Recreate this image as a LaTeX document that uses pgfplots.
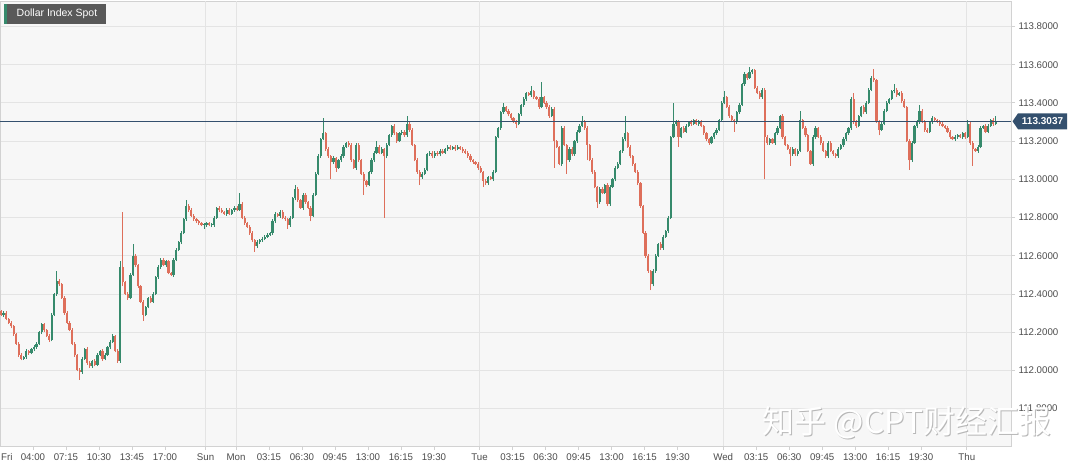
\documentclass[border=0pt]{standalone}
\usepackage{pgfplots}
\usepackage{pgfplotstable}
\pgfplotsset{compat=1.18}
\usepackage{fontspec}
\setmainfont{Liberation Sans}
\newfontfamily\cjk{Noto Sans CJK SC}
\definecolor{upc}{HTML}{368A6C}
\definecolor{dnc}{HTML}{DE6F5B}
\definecolor{plotbg}{HTML}{F7F7F7}
\definecolor{gridc}{HTML}{E4E4E4}
\definecolor{axc}{HTML}{D2D2D2}
\definecolor{labc}{HTML}{4D4D4D}
\definecolor{pricec}{HTML}{34506E}
\definecolor{boxc}{HTML}{595959}
\pgfplotstableread{
i o h l c
0 112.31 112.316 112.284 112.29
1 112.29 112.310 112.280 112.30
2 112.30 112.308 112.262 112.27
3 112.27 112.276 112.244 112.25
4 112.25 112.260 112.220 112.23
5 112.23 112.238 112.182 112.19
6 112.19 112.196 112.134 112.14
7 112.14 112.150 112.070 112.08
8 112.08 112.088 112.052 112.06
9 112.06 112.076 112.054 112.07
10 112.07 112.110 112.060 112.10
11 112.10 112.108 112.082 112.09
12 112.09 112.116 112.084 112.11
13 112.11 112.130 112.100 112.12
14 112.12 112.148 112.112 112.14
15 112.14 112.206 112.134 112.20
16 112.20 112.250 112.190 112.24
17 112.24 112.248 112.202 112.21
18 112.21 112.216 112.174 112.18
19 112.18 112.190 112.150 112.16
20 112.16 112.298 112.152 112.29
21 112.29 112.406 112.284 112.40
22 112.40 112.520 112.390 112.47
23 112.47 112.478 112.442 112.45
24 112.45 112.456 112.374 112.38
25 112.38 112.390 112.290 112.30
26 112.30 112.308 112.242 112.25
27 112.25 112.256 112.204 112.21
28 112.21 112.220 112.130 112.14
29 112.14 112.148 112.072 112.08
30 112.08 112.086 111.994 112.00
31 112.00 112.010 111.950 111.99
32 111.99 112.068 111.982 112.06
33 112.06 112.116 112.054 112.11
34 112.11 112.120 112.030 112.04
35 112.04 112.048 112.012 112.02
36 112.02 112.056 112.014 112.05
37 112.05 112.060 112.020 112.03
38 112.03 112.088 112.022 112.08
39 112.08 112.106 112.074 112.10
40 112.10 112.110 112.050 112.06
41 112.06 112.088 112.052 112.08
42 112.08 112.126 112.074 112.12
43 112.12 112.160 112.110 112.15
44 112.15 112.188 112.142 112.18
45 112.18 112.186 112.094 112.10
46 112.10 112.110 112.040 112.05
47 112.05 112.570 112.040 112.54
48 112.54 112.830 112.440 112.46
49 112.46 112.466 112.394 112.40
50 112.40 112.410 112.370 112.38
51 112.38 112.508 112.372 112.50
52 112.50 112.660 112.494 112.60
53 112.60 112.610 112.540 112.55
54 112.55 112.558 112.432 112.44
55 112.44 112.446 112.354 112.36
56 112.36 112.370 112.260 112.29
57 112.29 112.338 112.282 112.33
58 112.33 112.386 112.324 112.38
59 112.38 112.390 112.350 112.36
60 112.36 112.408 112.352 112.40
61 112.40 112.496 112.394 112.49
62 112.49 112.550 112.480 112.54
63 112.54 112.588 112.532 112.58
64 112.58 112.586 112.544 112.55
65 112.55 112.580 112.540 112.57
66 112.57 112.578 112.502 112.51
67 112.51 112.516 112.494 112.50
68 112.50 112.590 112.490 112.58
69 112.58 112.638 112.572 112.63
70 112.63 112.676 112.624 112.67
71 112.67 112.730 112.660 112.72
72 112.72 112.798 112.712 112.79
73 112.79 112.890 112.784 112.86
74 112.86 112.870 112.830 112.84
75 112.84 112.848 112.802 112.81
76 112.81 112.816 112.784 112.79
77 112.79 112.800 112.770 112.78
78 112.78 112.788 112.762 112.77
79 112.77 112.776 112.754 112.76
80 112.76 112.770 112.740 112.76
81 112.76 112.778 112.752 112.77
82 112.77 112.776 112.754 112.76
83 112.76 112.770 112.750 112.76
84 112.76 112.808 112.752 112.80
85 112.80 112.856 112.794 112.85
86 112.85 112.860 112.830 112.84
87 112.84 112.848 112.822 112.83
88 112.83 112.836 112.814 112.82
89 112.82 112.850 112.810 112.84
90 112.84 112.848 112.812 112.82
91 112.82 112.846 112.814 112.84
92 112.84 112.860 112.830 112.85
93 112.85 112.858 112.832 112.84
94 112.84 112.930 112.834 112.87
95 112.87 112.880 112.790 112.80
96 112.80 112.808 112.762 112.77
97 112.77 112.776 112.744 112.75
98 112.75 112.760 112.710 112.72
99 112.72 112.728 112.672 112.68
100 112.68 112.686 112.620 112.65
101 112.65 112.680 112.640 112.67
102 112.67 112.688 112.662 112.68
103 112.68 112.696 112.674 112.69
104 112.69 112.710 112.680 112.70
105 112.70 112.718 112.692 112.71
106 112.71 112.726 112.704 112.72
107 112.72 112.790 112.710 112.78
108 112.78 112.828 112.772 112.82
109 112.82 112.826 112.804 112.81
110 112.81 112.840 112.800 112.83
111 112.83 112.838 112.792 112.80
112 112.80 112.806 112.784 112.79
113 112.79 112.800 112.740 112.76
114 112.76 112.808 112.752 112.80
115 112.80 112.906 112.794 112.90
116 112.90 112.970 112.890 112.95
117 112.95 112.958 112.882 112.89
118 112.89 112.896 112.844 112.85
119 112.85 112.930 112.840 112.92
120 112.92 112.928 112.872 112.88
121 112.88 112.886 112.844 112.85
122 112.85 112.860 112.780 112.81
123 112.81 112.928 112.802 112.92
124 112.92 113.036 112.914 113.03
125 113.03 113.130 113.020 113.12
126 113.12 113.218 113.112 113.21
127 113.21 113.320 113.204 113.24
128 113.24 113.250 113.150 113.16
129 113.16 113.168 113.112 113.12
130 113.12 113.126 113.000 113.09
131 113.09 113.120 113.080 113.11
132 113.11 113.118 113.040 113.06
133 113.06 113.106 113.054 113.10
134 113.10 113.130 113.090 113.12
135 113.12 113.178 113.112 113.17
136 113.17 113.196 113.164 113.19
137 113.19 113.200 113.170 113.18
138 113.18 113.188 113.092 113.10
139 113.10 113.106 113.054 113.06
140 113.06 113.190 113.050 113.18
141 113.18 113.188 113.092 113.10
142 113.10 113.106 113.024 113.03
143 113.03 113.040 112.920 112.99
144 112.99 112.998 112.962 112.97
145 112.97 113.046 112.964 113.04
146 113.04 113.110 113.030 113.10
147 113.10 113.148 113.092 113.14
148 113.14 113.200 113.134 113.17
149 113.17 113.180 113.130 113.14
150 113.14 113.168 113.132 113.16
151 113.16 113.166 112.800 113.12
152 113.12 113.190 113.110 113.18
153 113.18 113.238 113.172 113.23
154 113.23 113.286 113.224 113.28
155 113.28 113.290 113.230 113.24
156 113.24 113.248 113.192 113.20
157 113.20 113.246 113.194 113.24
158 113.24 113.260 113.230 113.25
159 113.25 113.258 113.222 113.23
160 113.23 113.330 113.224 113.29
161 113.29 113.300 113.250 113.26
162 113.26 113.268 113.172 113.18
163 113.18 113.186 113.094 113.10
164 113.10 113.110 113.030 113.04
165 113.04 113.048 112.970 113.01
166 113.01 113.036 113.004 113.03
167 113.03 113.060 113.020 113.05
168 113.05 113.138 113.042 113.13
169 113.13 113.146 113.124 113.14
170 113.14 113.150 113.110 113.12
171 113.12 113.148 113.112 113.14
172 113.14 113.146 113.124 113.13
173 113.13 113.160 113.120 113.15
174 113.15 113.158 113.132 113.14
175 113.14 113.166 113.134 113.16
176 113.16 113.180 113.150 113.17
177 113.17 113.178 113.152 113.16
178 113.16 113.176 113.154 113.17
179 113.17 113.180 113.150 113.16
180 113.16 113.178 113.152 113.17
181 113.17 113.176 113.154 113.16
182 113.16 113.170 113.140 113.15
183 113.15 113.158 113.132 113.14
184 113.14 113.146 113.114 113.12
185 113.12 113.130 113.090 113.10
186 113.10 113.108 113.082 113.09
187 113.09 113.096 113.074 113.08
188 113.08 113.090 113.050 113.06
189 113.06 113.068 113.032 113.04
190 113.04 113.046 112.960 112.99
191 112.99 113.000 112.970 112.98
192 112.98 113.018 112.972 113.01
193 113.01 113.016 112.994 113.00
194 113.00 113.050 112.990 113.04
195 113.04 113.228 113.032 113.22
196 113.22 113.276 113.214 113.27
197 113.27 113.360 113.260 113.35
198 113.35 113.400 113.342 113.38
199 113.38 113.386 113.354 113.36
200 113.36 113.370 113.330 113.34
201 113.34 113.348 113.312 113.32
202 113.32 113.326 113.294 113.30
203 113.30 113.310 113.270 113.29
204 113.29 113.348 113.282 113.34
205 113.34 113.396 113.334 113.39
206 113.39 113.430 113.380 113.42
207 113.42 113.458 113.412 113.45
208 113.45 113.456 113.434 113.44
209 113.44 113.490 113.430 113.46
210 113.46 113.468 113.422 113.43
211 113.43 113.436 113.414 113.42
212 113.42 113.430 113.370 113.38
213 113.38 113.510 113.372 113.43
214 113.43 113.436 113.394 113.40
215 113.40 113.410 113.370 113.38
216 113.38 113.388 113.322 113.33
217 113.33 113.376 113.324 113.37
218 113.37 113.380 113.060 113.20
219 113.20 113.208 113.162 113.17
220 113.17 113.176 113.074 113.08
221 113.08 113.280 113.070 113.27
222 113.27 113.278 113.172 113.18
223 113.18 113.186 113.030 113.10
224 113.10 113.170 113.090 113.16
225 113.16 113.168 113.122 113.13
226 113.13 113.206 113.124 113.20
227 113.20 113.260 113.190 113.25
228 113.25 113.288 113.242 113.28
229 113.28 113.330 113.274 113.30
230 113.30 113.310 113.260 113.27
231 113.27 113.278 113.100 113.18
232 113.18 113.186 113.094 113.10
233 113.10 113.110 113.030 113.04
234 113.04 113.048 112.952 112.96
235 112.96 112.966 112.850 112.88
236 112.88 112.960 112.870 112.95
237 112.95 112.958 112.922 112.93
238 112.93 112.976 112.924 112.97
239 112.97 112.980 112.860 112.87
240 112.87 112.968 112.862 112.96
241 112.96 113.006 112.954 113.00
242 113.00 113.070 112.990 113.06
243 113.06 113.088 113.052 113.08
244 113.08 113.156 113.074 113.15
245 113.15 113.220 113.140 113.21
246 113.21 113.330 113.202 113.24
247 113.24 113.246 113.164 113.17
248 113.17 113.180 113.110 113.12
249 113.12 113.128 113.072 113.08
250 113.08 113.086 113.034 113.04
251 113.04 113.050 112.970 112.98
252 112.98 112.988 112.852 112.86
253 112.86 112.866 112.714 112.72
254 112.72 112.730 112.590 112.60
255 112.60 112.608 112.512 112.52
256 112.52 112.526 112.420 112.45
257 112.45 112.530 112.440 112.52
258 112.52 112.608 112.512 112.60
259 112.60 112.666 112.594 112.66
260 112.66 112.670 112.630 112.64
261 112.64 112.708 112.632 112.70
262 112.70 112.736 112.694 112.73
263 112.73 112.810 112.720 112.80
264 112.80 113.228 112.792 113.22
265 113.22 113.400 113.214 113.29
266 113.29 113.310 113.280 113.30
267 113.30 113.308 113.170 113.22
268 113.22 113.276 113.214 113.27
269 113.27 113.280 113.240 113.25
270 113.25 113.288 113.242 113.28
271 113.28 113.306 113.274 113.30
272 113.30 113.310 113.280 113.29
273 113.29 113.318 113.282 113.31
274 113.31 113.316 113.284 113.29
275 113.29 113.310 113.280 113.30
276 113.30 113.308 113.272 113.28
277 113.28 113.286 113.234 113.24
278 113.24 113.250 113.200 113.21
279 113.21 113.218 113.182 113.19
280 113.19 113.226 113.184 113.22
281 113.22 113.250 113.210 113.24
282 113.24 113.268 113.232 113.26
283 113.26 113.316 113.254 113.31
284 113.31 113.410 113.300 113.40
285 113.40 113.460 113.392 113.43
286 113.43 113.436 113.374 113.38
287 113.38 113.390 113.320 113.33
288 113.33 113.338 113.302 113.31
289 113.31 113.316 113.250 113.30
290 113.30 113.360 113.290 113.35
291 113.35 113.398 113.342 113.39
292 113.39 113.506 113.384 113.50
293 113.50 113.560 113.490 113.55
294 113.55 113.558 113.522 113.53
295 113.53 113.590 113.524 113.56
296 113.56 113.580 113.550 113.57
297 113.57 113.578 113.472 113.48
298 113.48 113.486 113.444 113.45
299 113.45 113.460 113.420 113.43
300 113.43 113.478 113.422 113.47
301 113.47 113.476 113.000 113.22
302 113.22 113.230 113.180 113.19
303 113.19 113.218 113.182 113.21
304 113.21 113.216 113.184 113.19
305 113.19 113.250 113.180 113.24
306 113.24 113.278 113.232 113.27
307 113.27 113.336 113.264 113.33
308 113.33 113.340 113.210 113.22
309 113.22 113.228 113.172 113.18
310 113.18 113.186 113.154 113.16
311 113.16 113.170 113.070 113.13
312 113.13 113.168 113.122 113.16
313 113.16 113.166 113.124 113.13
314 113.13 113.160 113.120 113.15
315 113.15 113.360 113.142 113.31
316 113.31 113.316 113.264 113.27
317 113.27 113.280 113.220 113.23
318 113.23 113.238 113.142 113.15
319 113.15 113.156 113.074 113.08
320 113.08 113.230 113.070 113.22
321 113.22 113.278 113.212 113.27
322 113.27 113.276 113.214 113.22
323 113.22 113.230 113.180 113.19
324 113.19 113.198 113.142 113.15
325 113.15 113.156 113.114 113.12
326 113.12 113.200 113.110 113.19
327 113.19 113.198 113.142 113.15
328 113.15 113.156 113.124 113.13
329 113.13 113.140 113.110 113.12
330 113.12 113.168 113.112 113.16
331 113.16 113.186 113.154 113.18
332 113.18 113.220 113.170 113.21
333 113.21 113.248 113.202 113.24
334 113.24 113.276 113.234 113.27
335 113.27 113.430 113.260 113.42
336 113.42 113.450 113.292 113.30
337 113.30 113.310 113.270 113.28
338 113.28 113.338 113.272 113.33
339 113.33 113.386 113.324 113.38
340 113.38 113.390 113.340 113.35
341 113.35 113.408 113.342 113.40
342 113.40 113.476 113.394 113.47
343 113.47 113.540 113.460 113.53
344 113.53 113.580 113.512 113.52
345 113.52 113.526 113.294 113.30
346 113.30 113.310 113.230 113.26
347 113.26 113.298 113.252 113.29
348 113.29 113.366 113.284 113.36
349 113.36 113.410 113.350 113.40
350 113.40 113.428 113.392 113.42
351 113.42 113.466 113.414 113.46
352 113.46 113.500 113.450 113.47
353 113.47 113.478 113.432 113.44
354 113.44 113.456 113.434 113.45
355 113.45 113.460 113.400 113.41
356 113.41 113.418 113.372 113.38
357 113.38 113.386 113.194 113.20
358 113.20 113.210 113.050 113.10
359 113.10 113.198 113.092 113.19
360 113.19 113.286 113.184 113.28
361 113.28 113.310 113.270 113.30
362 113.30 113.390 113.292 113.36
363 113.36 113.366 113.294 113.30
364 113.30 113.310 113.250 113.26
365 113.26 113.268 113.242 113.25
366 113.25 113.306 113.244 113.30
367 113.30 113.330 113.290 113.32
368 113.32 113.328 113.302 113.31
369 113.31 113.316 113.294 113.30
370 113.30 113.310 113.280 113.29
371 113.29 113.298 113.272 113.28
372 113.28 113.286 113.264 113.27
373 113.27 113.280 113.240 113.25
374 113.25 113.258 113.212 113.22
375 113.22 113.226 113.204 113.21
376 113.21 113.230 113.200 113.22
377 113.22 113.238 113.212 113.23
378 113.23 113.236 113.214 113.22
379 113.22 113.250 113.210 113.24
380 113.24 113.248 113.212 113.22
381 113.22 113.310 113.214 113.29
382 113.29 113.300 113.180 113.19
383 113.19 113.198 113.070 113.16
384 113.16 113.166 113.144 113.15
385 113.15 113.180 113.140 113.17
386 113.17 113.278 113.162 113.27
387 113.27 113.286 113.264 113.28
388 113.28 113.290 113.240 113.25
389 113.25 113.288 113.242 113.28
390 113.28 113.316 113.274 113.31
391 113.31 113.320 113.280 113.29
392 113.29 113.330 113.282 113.304
}\candles
\begin{document}
\begin{tikzpicture}
\useasboundingbox (0,0) rectangle (1080pt,469pt);
\fill[white] (0,0) rectangle (1080pt,469pt);
\begin{axis}[
  at={(0pt,23pt)}, anchor=south west,
  scale only axis, width=1011pt, height=445pt,
  xmin=0.75, xmax=100.36, ymin=111.6037, ymax=113.9335,
  axis background/.style={fill=plotbg},
  axis line style={draw=axc, line width=0.8pt},
  xtick={4,7.25,10.5,13.75,17,27.25,30.5,33.75,37,40.25,43.5,51.25,54.5,57.75,61,64.25,67.5,75.25,78.5,81.75,85,88.25,91.5},
  xticklabels={04:00,07:15,10:30,13:45,17:00,03:15,06:30,09:45,13:00,16:15,19:30,03:15,06:30,09:45,13:00,16:15,19:30,03:15,06:30,09:45,13:00,16:15,19:30},
  extra x ticks={21,24,48,72,96},
  extra x tick labels={Sun,Mon,Tue,Wed,Thu},
  extra x tick style={xmajorgrids=true},
  ytick={111.8,112.0,112.2,112.4,112.6,112.8,113.0,113.2,113.4,113.6,113.8},
  xtick pos=bottom, ytick pos=right, yticklabel pos=right,
  tick align=outside, major tick length=4pt,
  tick style={draw=axc, line width=0.8pt},
  ymajorgrids, grid style={draw=gridc, line width=0.8pt},
  ticklabel style={font=\fontsize{9.7}{11}\selectfont, text=labc},
  yticklabel style={/pgf/number format/.cd, fixed, fixed zerofill, precision=4, 1000 sep={}},
  /pgf/number format/assume math mode=true,
]
% wicks
\addplot[draw=none, mark=none, forget plot,
  restrict expr to domain={\thisrow{c}-\thisrow{o}}{0:5},
  error bars/.cd, y dir=plus, y explicit, error mark=none,
  error bar style={draw=upc, line width=0.9pt}]
  table[x expr=0.85+0.25*\thisrow{i}, y=l, y error expr=\thisrow{h}-\thisrow{l}] {\candles};
\addplot[draw=none, mark=none, forget plot,
  restrict expr to domain={\thisrow{c}-\thisrow{o}}{-5:-0.0001},
  error bars/.cd, y dir=plus, y explicit, error mark=none,
  error bar style={draw=dnc, line width=0.9pt}]
  table[x expr=0.85+0.25*\thisrow{i}, y=l, y error expr=\thisrow{h}-\thisrow{l}] {\candles};
% bodies
\addplot[draw=none, mark=none, forget plot,
  restrict expr to domain={\thisrow{c}-\thisrow{o}}{0:5},
  error bars/.cd, y dir=plus, y explicit, error mark=none,
  error bar style={draw=upc, line width=2.2pt}]
  table[x expr=0.85+0.25*\thisrow{i}, y expr={min(\thisrow{o},\thisrow{c})}, y error expr={max(abs(\thisrow{c}-\thisrow{o}),0.005)}] {\candles};
\addplot[draw=none, mark=none, forget plot,
  restrict expr to domain={\thisrow{c}-\thisrow{o}}{-5:-0.0001},
  error bars/.cd, y dir=plus, y explicit, error mark=none,
  error bar style={draw=dnc, line width=2.2pt}]
  table[x expr=0.85+0.25*\thisrow{i}, y expr={min(\thisrow{o},\thisrow{c})}, y error expr={max(abs(\thisrow{c}-\thisrow{o}),0.005)}] {\candles};
% current price line
\addplot[pricec, line width=0.9pt, forget plot] coordinates {(0.75,113.3037) (100.36,113.3037)};
\coordinate (pl) at (axis cs:100.36,113.3037);
\end{axis}
% price label
\fill[pricec] ([xshift=1.5pt]pl) -- ++(5.5pt,8pt) -- ++(49pt,0) -- ++(0,-16pt) -- ++(-49pt,0) -- cycle;
\node[text=white, font=\bfseries\fontsize{10}{12}\selectfont, inner sep=0pt] at ([xshift=31.5pt]pl) {113.3037};
% Fri label
\node[anchor=base west, inner sep=0pt, font=\fontsize{9.7}{11}\selectfont, text=labc] at (1pt,8.7pt) {Fri};
% title box
\fill[boxc] (4pt,445pt) rectangle (106pt,465pt);
\fill[upc] (4pt,445pt) rectangle (6.7pt,465pt);
\node[text=white, font=\fontsize{10.5}{12}\selectfont, inner sep=0pt] at (57pt,455pt) {Dollar Index Spot};
% watermark
\node[text=black!28, font=\cjk\fontsize{32}{36}\selectfont] at (908pt,45pt) {知乎 @CPT财经汇报};
\node[text=white, font=\cjk\fontsize{32}{36}\selectfont] at (907pt,46pt) {知乎 @CPT财经汇报};
\end{tikzpicture}
\end{document}
